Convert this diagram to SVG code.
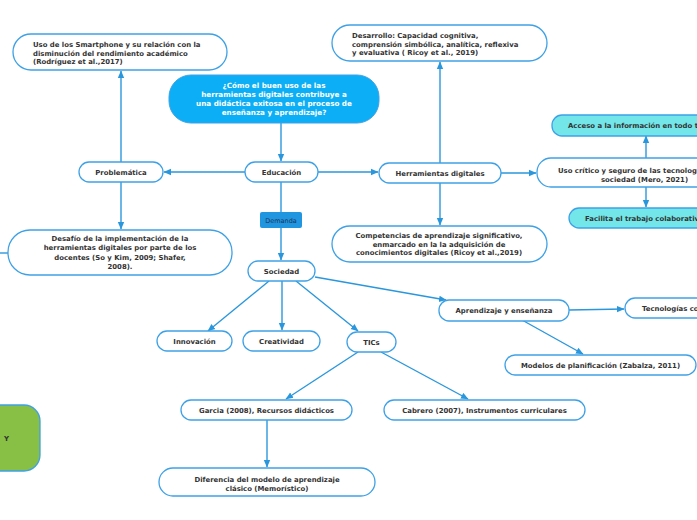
<svg xmlns="http://www.w3.org/2000/svg" width="697" height="520" viewBox="0 0 697 520">
<defs>
<marker id="arr" markerWidth="8" markerHeight="8" refX="7" refY="4" orient="auto" markerUnits="userSpaceOnUse">
<path d="M0,0.8 L7.5,4 L0,7.2 Z" fill="#2a97dd"/>
</marker>
<style>
.n{fill:#fff;stroke:#3ea1e6;stroke-width:1.3}
.c{fill:#72e6e9;stroke:#3ea1e6;stroke-width:1.3}
.t{font-family:"DejaVu Sans",Verdana,sans-serif;font-weight:bold;font-size:6.9px;fill:#333}
.m{text-anchor:middle}
.w{fill:#fff;font-size:7.2px}
.l{fill:none;stroke:#2a97dd;stroke-width:1.4}
</style>
</defs>
<rect width="697" height="520" fill="#fff"/>
<g id="connectors">
<path class="l" d="M281,123 V161" marker-end="url(#arr)"/>
<path class="l" d="M245,172 H164" marker-end="url(#arr)"/>
<path class="l" d="M121,162 V71" marker-end="url(#arr)"/>
<path class="l" d="M121,182 V229" marker-end="url(#arr)"/>
<path class="l" d="M318,172 H378" marker-end="url(#arr)"/>
<path class="l" d="M440,163 V62" marker-end="url(#arr)"/>
<path class="l" d="M440,183 V225" marker-end="url(#arr)"/>
<path class="l" d="M501,173 H536" marker-end="url(#arr)"/>
<path class="l" d="M646,158 V136" marker-end="url(#arr)"/>
<path class="l" d="M646,187 V207" marker-end="url(#arr)"/>
<path class="l" d="M281,182 V260" marker-end="url(#arr)"/>
<path class="l" d="M269,281 L208,331" marker-end="url(#arr)"/>
<path class="l" d="M282,281 V330" marker-end="url(#arr)"/>
<path class="l" d="M296,281 L358,331" marker-end="url(#arr)"/>
<path class="l" d="M315,277 L446,300" marker-end="url(#arr)"/>
<path class="l" d="M569,310 L624,309" marker-end="url(#arr)"/>
<path class="l" d="M522,320 L583,354" marker-end="url(#arr)"/>
<path class="l" d="M358,352 L286,399" marker-end="url(#arr)"/>
<path class="l" d="M381,352 L468,399" marker-end="url(#arr)"/>
<path class="l" d="M267,420 V467" marker-end="url(#arr)"/>
<path class="l" d="M0,253 H8"/>
<g id="demanda">
<rect x="260" y="212" width="42" height="16" rx="2" fill="#2196e0"/>
<text x="281" y="222.5" class="m" style="font-family:'DejaVu Sans',Verdana,sans-serif;font-size:6.5px;fill:#1b3556">Demanda</text>
</g>
</g>
<g id="n-smartphone">
<rect class="n" x="13" y="34" width="214" height="36" rx="18"/>
<text class="t" x="33" y="46.5">Uso de los Smartphone y su relación con la</text>
<text class="t" x="33" y="55.5">disminución del rendimiento académico</text>
<text class="t" x="33" y="64">(Rodríguez et al.,2017)</text>
</g>
<g id="n-pregunta">
<rect x="169" y="75" width="210" height="48" rx="22" fill="#0caef5" stroke="#3ea1e6" stroke-width="1"/>
<text class="t m w" x="274" y="88">¿Cómo el buen uso de las</text>
<text class="t m w" x="274" y="97">herramientas digitales contribuye a</text>
<text class="t m w" x="274" y="106">una didáctica exitosa en el proceso de</text>
<text class="t m w" x="274" y="115">enseñanza y aprendizaje?</text>
</g>
<g id="n-desarrollo">
<rect class="n" x="332" y="25" width="215" height="36" rx="18"/>
<text class="t" x="352" y="37.5">Desarrollo: Capacidad cognitiva,</text>
<text class="t" x="352" y="46.5">comprensión simbólica, analítica, reflexiva</text>
<text class="t" x="352" y="55">y evaluativa ( Ricoy et al., 2019)</text>
</g>
<g id="n-acceso">
<rect class="c" x="552" y="115" width="170" height="21" rx="10"/>
<text class="t" x="568" y="127.5">Acceso a la información en todo t</text>
</g>
<g id="n-usocritico">
<rect class="n" x="537" y="158" width="190" height="29" rx="14"/>
<text class="t" x="558" y="173">Uso crítico y seguro de las tecnolog</text>
<text class="t" x="601" y="182">sociedad (Mero, 2021)</text>
</g>
<g id="n-facilita">
<rect class="c" x="569" y="208" width="160" height="20" rx="10"/>
<text class="t" x="585" y="220.5">Facilita el trabajo colaborativ</text>
</g>
<g id="n-problematica">
<rect class="n" x="79" y="162" width="84" height="20" rx="10"/>
<text class="t m" x="121" y="174.5">Problemática</text>
</g>
<g id="n-educacion">
<rect class="n" x="245" y="162" width="73" height="20" rx="10"/>
<text class="t m" x="281.5" y="174.5">Educación</text>
</g>
<g id="n-herramientas">
<rect class="n" x="379" y="163" width="122" height="20" rx="10"/>
<text class="t m" x="440" y="175.5">Herramientas digitales</text>
</g>
<g id="n-desafio">
<rect class="n" x="8" y="230" width="224" height="45" rx="22"/>
<text class="t m" x="120" y="240.5">Desafío de la implementación de la</text>
<text class="t m" x="120" y="250">herramientas digitales por parte de los</text>
<text class="t m" x="120" y="259.5">docentes (So y Kim, 2009; Shafer,</text>
<text class="t m" x="120" y="268.5">2008).</text>
</g>
<g id="n-competencias">
<rect class="n" x="332" y="226" width="215" height="36" rx="18"/>
<text class="t m" x="439" y="238">Competencias de aprendizaje significativo,</text>
<text class="t m" x="439" y="246.5">enmarcado en la la adquisición de</text>
<text class="t m" x="439" y="255">conocimientos digitales (Ricoy et al.,2019)</text>
</g>
<g id="n-sociedad">
<rect class="n" x="248" y="261" width="67" height="20" rx="10"/>
<text class="t m" x="281.5" y="273.5">Sociedad</text>
</g>
<g id="n-innovacion">
<rect class="n" x="157" y="331" width="75" height="20" rx="10"/>
<text class="t m" x="194.5" y="343.5">Innovación</text>
</g>
<g id="n-creatividad">
<rect class="n" x="243" y="331" width="77" height="20" rx="10"/>
<text class="t m" x="281.5" y="343.5">Creatividad</text>
</g>
<g id="n-tics">
<rect class="n" x="347" y="332" width="49" height="20" rx="10"/>
<text class="t m" x="371.5" y="344.5">TICs</text>
</g>
<g id="n-aprendizaje">
<rect class="n" x="439" y="300" width="130" height="21" rx="10"/>
<text class="t m" x="504" y="313">Aprendizaje y enseñanza</text>
</g>
<g id="n-tecnologias">
<rect class="n" x="625" y="298" width="100" height="20" rx="10"/>
<text class="t" x="642" y="310.5">Tecnologías co</text>
</g>
<g id="n-modelos">
<rect class="n" x="505" y="355" width="191" height="20" rx="10"/>
<text class="t m" x="600.5" y="367.5">Modelos de planificación (Zabalza, 2011)</text>
</g>
<g id="n-garcia">
<rect class="n" x="181" y="400" width="171" height="20" rx="10"/>
<text class="t m" x="266.5" y="412.5">Garcia (2008), Recursos didácticos</text>
</g>
<g id="n-cabrero">
<rect class="n" x="384" y="400" width="201" height="20" rx="10"/>
<text class="t m" x="484.5" y="412.5">Cabrero (2007), Instrumentos curriculares</text>
</g>
<g id="n-diferencia">
<rect class="n" x="159" y="468" width="216" height="28" rx="14"/>
<text class="t m" x="267" y="482">Diferencia del modelo de aprendizaje</text>
<text class="t m" x="267" y="491">clásico (Memorístico)</text>
</g>
<g id="n-verde">
<rect x="-40" y="405" width="80" height="66" rx="16" fill="#88bf45" stroke="#3ea1e6" stroke-width="1.3"/>
<text class="t" x="4" y="441">Y</text>
</g>
</svg>
